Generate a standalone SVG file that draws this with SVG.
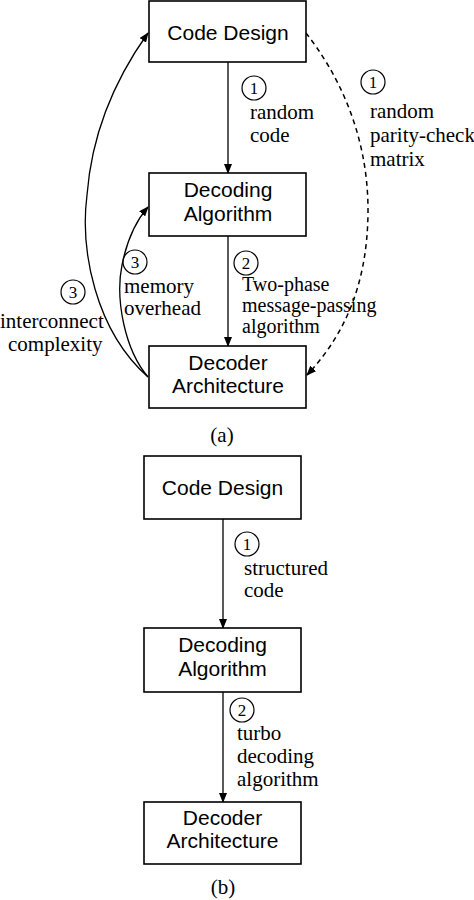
<svg xmlns="http://www.w3.org/2000/svg" width="474" height="900" viewBox="0 0 474 900">
<style>
.box{fill:#fff;stroke:#000;stroke-width:1.6}
.bl{font-family:"Liberation Sans",Arial,sans-serif;font-size:21px;text-anchor:middle;fill:#000}
.lb{font-family:"Liberation Serif","Times New Roman",serif;font-size:21px;fill:#000}
.sm{font-size:20px}
.num{font-family:"Liberation Serif","Times New Roman",serif;font-size:17px;text-anchor:middle;fill:#000}
.cir{fill:none;stroke:#000;stroke-width:1.2}
.ln{fill:none;stroke:#000;stroke-width:1.3}
.dash{fill:none;stroke:#000;stroke-width:1.5;stroke-dasharray:5 4}
</style>
<defs>
<marker id="ah" markerWidth="10" markerHeight="8" refX="9" refY="4" orient="auto" markerUnits="userSpaceOnUse">
<path d="M0,0 L10,4 L0,8 Z" fill="#000"/>
</marker>
</defs>
<rect width="474" height="900" fill="#fff"/>

<g id="connectors">
<line class="ln" x1="228" y1="62" x2="228" y2="173" marker-end="url(#ah)"/>
<line class="ln" x1="228" y1="236" x2="228" y2="346" marker-end="url(#ah)"/>
<path class="dash" d="M306,33 C335,70 368,130 368,210 C368,290 340,340 307,375" marker-end="url(#ah)"/>
<path class="ln" d="M148,377 C95,330 80,250 87,195 C92,130 118,75 148,33" marker-end="url(#ah)"/>
<path class="ln" d="M148,377 C125,350 115,300 122,265 C127,240 135,222 148,207" marker-end="url(#ah)"/>
<line class="ln" x1="223" y1="519" x2="223" y2="628" marker-end="url(#ah)"/>
<line class="ln" x1="223" y1="692" x2="223" y2="802" marker-end="url(#ah)"/>
</g>

<g id="a-code-design">
<rect class="box" x="149" y="1" width="157" height="61"/>
<text class="bl" x="228" y="40">Code Design</text>
</g>
<g id="a-decoding-algorithm">
<rect class="box" x="149" y="173" width="157" height="63"/>
<text class="bl" x="228" y="197">Decoding</text>
<text class="bl" x="228" y="221">Algorithm</text>
</g>
<g id="a-decoder-architecture">
<rect class="box" x="149" y="346" width="157" height="62"/>
<text class="bl" x="228" y="370">Decoder</text>
<text class="bl" x="228" y="393">Architecture</text>
</g>

<g id="a-labels">
<circle class="cir" cx="254" cy="88" r="12"/><text class="num" x="254" y="94">1</text>
<text class="lb" x="250" y="119">random</text>
<text class="lb" x="250" y="142">code</text>
<circle class="cir" cx="373" cy="82" r="12"/><text class="num" x="373" y="88">1</text>
<text class="lb" x="370" y="118">random</text>
<text class="lb" x="370" y="142">parity-check</text>
<text class="lb" x="370" y="166">matrix</text>
<circle class="cir" cx="246" cy="263" r="12"/><text class="num" x="246" y="269">2</text>
<text class="lb sm" x="242" y="291">Two-phase</text>
<text class="lb sm" x="242" y="312">message-passing</text>
<text class="lb sm" x="242" y="333">algorithm</text>
<circle class="cir" cx="135" cy="262" r="12"/><text class="num" x="135" y="268">3</text>
<text class="lb" x="124" y="293">memory</text>
<text class="lb" x="124" y="315">overhead</text>
<circle class="cir" cx="73" cy="292" r="12"/><text class="num" x="73" y="298">3</text>
<text class="lb" x="0" y="328">interconnect</text>
<text class="lb" x="8" y="351">complexity</text>
<text class="lb" x="222" y="442" text-anchor="middle">(a)</text>
</g>

<g id="b-code-design">
<rect class="box" x="144" y="456" width="157" height="63"/>
<text class="bl" x="222.5" y="495">Code Design</text>
</g>
<g id="b-decoding-algorithm">
<rect class="box" x="144" y="628" width="157" height="64"/>
<text class="bl" x="222.5" y="652">Decoding</text>
<text class="bl" x="222.5" y="676">Algorithm</text>
</g>
<g id="b-decoder-architecture">
<rect class="box" x="144" y="802" width="157" height="62"/>
<text class="bl" x="222.5" y="825">Decoder</text>
<text class="bl" x="222.5" y="848">Architecture</text>
</g>

<g id="b-labels">
<circle class="cir" cx="247" cy="544" r="12"/><text class="num" x="247" y="550">1</text>
<text class="lb" x="244" y="575">structured</text>
<text class="lb" x="244" y="597">code</text>
<circle class="cir" cx="242" cy="710" r="12"/><text class="num" x="242" y="716">2</text>
<text class="lb" x="237" y="740">turbo</text>
<text class="lb" x="237" y="763">decoding</text>
<text class="lb" x="237" y="786">algorithm</text>
<text class="lb" x="223" y="894" text-anchor="middle">(b)</text>
</g>
</svg>
